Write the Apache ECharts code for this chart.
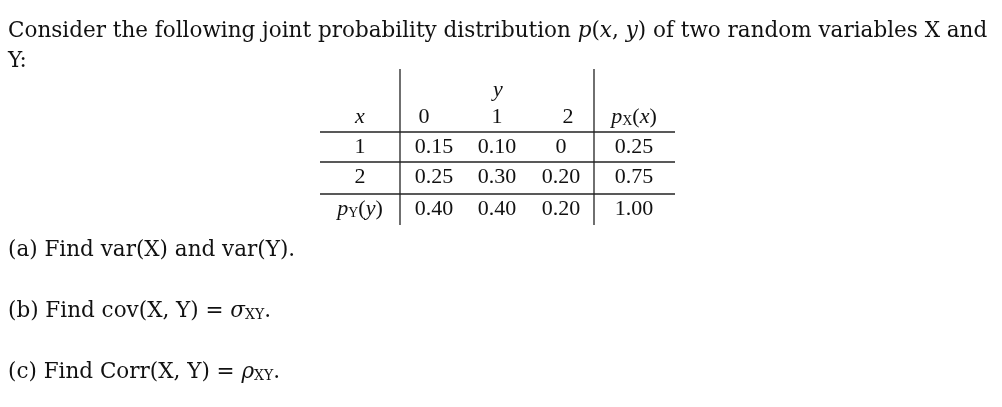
<!DOCTYPE html>
<html><head><meta charset="utf-8">
<script src="https://cdn.jsdelivr.net/npm/echarts@6/dist/echarts.min.js"></script>
<style>html,body{margin:0;background:#fff}#c{width:1002px;height:407px}</style>
</head><body><div id="c"></div>
<script>
// table data
const yValues = ['0', '1', '2'];
const xValues = ['1', '2'];
const joint = [
  ['0.15', '0.10', '0'],
  ['0.25', '0.30', '0.20'],
];
const pX = ['0.25', '0.75'];
const pY = ['0.40', '0.40', '0.20'];
const pTotal = '1.00';

const chart = echarts.init(document.getElementById('c'));
const FONT = '"Liberation Serif", "DejaVu Serif", serif';
const WIDE = '"DejaVu Serif", serif';

function mkRich(font, fs) {
  return {
    i: { fontStyle: 'italic', fontFamily: font, fontSize: fs, fill: '#111' },
    s: { fontFamily: font, fontSize: Math.round(fs * 0.65), fill: '#111', verticalAlign: 'bottom', padding: [8, 0, 0, 0] },
  };
}

function txt(x, y, text, align, font, fs) {
  font = font || FONT; fs = fs || 22;
  return {
    type: 'text', x, y,
    style: { text, fontFamily: font, fontSize: fs, fill: '#111', align: align || 'left',
             verticalAlign: 'middle', rich: mkRich(font, fs) }
  };
}
function para(x, y, text) { return txt(x, y, text, 'left', WIDE, 21.5); }
function line(x1, y1, x2, y2) {
  return { type: 'line', shape: { x1, y1, x2, y2 }, style: { stroke: '#222', lineWidth: 1.3 } };
}

const colX = [434, 497, 561];
const rowY = [147, 177, 209];
const els = [
  para(8, 31, 'Consider the following joint probability distribution {i|p}({i|x}, {i|y}) of two random variables X and'),
  para(8, 61, 'Y:'),
  txt(498, 90, '{i|y}', 'center'),
  txt(360, 117, '{i|x}', 'center'),
  txt(634, 117, '{i|p}{s|X}({i|x})', 'center'),
  txt(360, rowY[2], '{i|p}{s|Y}({i|y})', 'center'),
  txt(634, rowY[2], pTotal, 'center'),
  para(8, 250, '(a) Find var(X) and var(Y).'),
  para(8, 311, '(b) Find cov(X, Y) = {i|σ}{s|XY}.'),
  para(8, 372, '(c) Find Corr(X, Y) = {i|ρ}{s|XY}.'),
  line(400, 69, 400, 225),
  line(594, 69, 594, 225),
  line(320, 132, 675, 132),
  line(320, 162, 675, 162),
  line(320, 194, 675, 194),
];
yValues.forEach((v, j) => els.push(txt([424, 497, 568][j], 117, v, 'center')));
xValues.forEach((v, i) => {
  els.push(txt(360, rowY[i], v, 'center'));
  joint[i].forEach((p, j) => els.push(txt(colX[j], rowY[i], p, 'center')));
  els.push(txt(634, rowY[i], pX[i], 'center'));
});
pY.forEach((p, j) => els.push(txt(colX[j], rowY[2], p, 'center')));

chart.setOption({ backgroundColor: '#fff', animation: false, graphic: { elements: els } });
</script></body></html>
